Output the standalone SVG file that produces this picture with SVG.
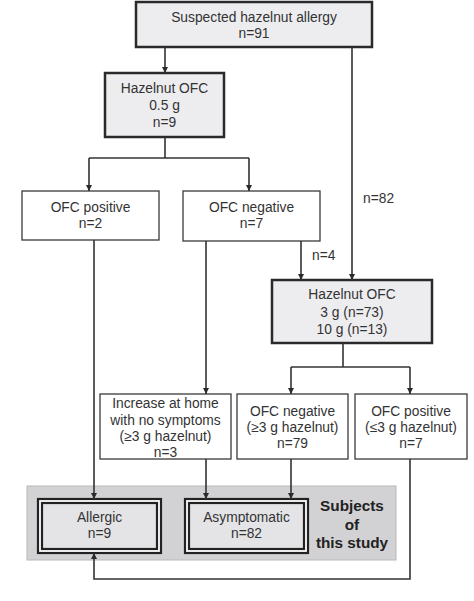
<svg xmlns="http://www.w3.org/2000/svg" width="474" height="601" viewBox="0 0 474 601">
<defs>
<marker id="arr" viewBox="0 0 10 10" refX="10" refY="5" markerWidth="6" markerHeight="6" markerUnits="userSpaceOnUse" orient="auto">
<path d="M0,0 L10,5 L0,10 z" fill="#2a2a2a"/>
</marker>
</defs>
<style>
text{font-family:"Liberation Sans",Arial,sans-serif;font-size:13.8px;fill:#333;text-anchor:middle}
.lbl{text-anchor:start}
.bold{font-weight:bold;font-size:15.3px;fill:#222}
.thick{fill:#ededf0;stroke:#2a2a2a;stroke-width:2.5}
.thin{fill:#fff;stroke:#3a3a3a;stroke-width:1.3}
.dbl{fill:#e4e4e6;stroke:#222;stroke-width:2.2}
.dblo{fill:#fff;stroke:#222;stroke-width:2.2}
.band{fill:#d2d2d4;stroke:#b8b8ba;stroke-width:1}
.conn path{fill:none;stroke:#333;stroke-width:1.6}
</style>
<g id="band"><rect class="band" x="27" y="486" width="369" height="74"/></g>
<g id="top"><rect class="thick" x="136" y="2" width="236" height="45"/>
<text x="254" y="22">Suspected hazelnut allergy</text><text x="254" y="38">n=91</text></g>
<g id="ofc05"><rect class="thick" x="105" y="73" width="119" height="64"/>
<text x="164.5" y="93">Hazelnut OFC</text><text x="164.5" y="110">0.5 g</text><text x="164.5" y="127">n=9</text></g>
<g id="ofcpos1"><rect class="thin" x="22" y="191" width="137" height="49"/>
<text x="90.5" y="212">OFC positive</text><text x="90.5" y="228">n=2</text></g>
<g id="ofcneg1"><rect class="thin" x="183" y="191" width="137" height="50"/>
<text x="251.5" y="212">OFC negative</text><text x="251.5" y="228">n=7</text></g>
<g id="ofc3"><rect class="thick" x="272" y="280" width="160" height="63"/>
<text x="352" y="299">Hazelnut OFC</text><text x="352" y="317">3 g (n=73)</text><text x="352" y="334">10 g (n=13)</text></g>
<g id="home"><rect class="thin" x="100" y="394" width="131" height="65"/>
<text x="165.5" y="408">Increase at home</text><text x="165.5" y="424.5">with no symptoms</text><text x="165.5" y="441">(≥3 g hazelnut)</text><text x="165.5" y="457">n=3</text></g>
<g id="ofcneg2"><rect class="thin" x="237" y="394" width="111" height="65"/>
<text x="292.5" y="416">OFC negative</text><text x="292.5" y="432">(≥3 g hazelnut)</text><text x="292.5" y="448">n=79</text></g>
<g id="ofcpos2"><rect class="thin" x="355" y="394" width="112" height="65"/>
<text x="411" y="416">OFC positive</text><text x="411" y="432">(≤3 g hazelnut)</text><text x="411" y="448">n=7</text></g>
<g id="allergic"><rect class="dblo" x="38" y="499" width="123" height="54"/><rect class="dbl" x="42" y="503" width="115" height="46"/>
<text x="99.5" y="522">Allergic</text><text x="99.5" y="538">n=9</text></g>
<g id="asymptomatic"><rect class="dblo" x="185" y="499" width="123" height="54"/><rect class="dbl" x="189" y="503" width="115" height="46"/>
<text x="246.5" y="522">Asymptomatic</text><text x="246.5" y="538">n=82</text></g>
<g id="subjects"><text class="bold" x="352" y="510.5">Subjects</text><text class="bold" x="352" y="529.5">of</text><text class="bold" x="352" y="547.5">this study</text></g>
<g id="connectors" class="conn">
<path d="M165,47 V73" marker-end="url(#arr)"/>
<path d="M352,47 V280" marker-end="url(#arr)"/>
<path d="M165,137 V158"/>
<path d="M89,158 H249"/>
<path d="M89,158 V191" marker-end="url(#arr)"/>
<path d="M249,158 V191" marker-end="url(#arr)"/>
<path d="M301,241 V280" marker-end="url(#arr)"/>
<path d="M206,241 V394" marker-end="url(#arr)"/>
<path d="M94,240 V499" marker-end="url(#arr)"/>
<path d="M343,343 V367"/>
<path d="M291,367 H410"/>
<path d="M291,367 V394" marker-end="url(#arr)"/>
<path d="M410,367 V394" marker-end="url(#arr)"/>
<path d="M206,459 V499" marker-end="url(#arr)"/>
<path d="M291,459 V499" marker-end="url(#arr)"/>
<path d="M410,459 V579 H94 V553" marker-end="url(#arr)"/>
</g>
<g id="labels">
<text class="lbl" x="363" y="203">n=82</text>
<text class="lbl" x="312" y="260">n=4</text>
</g>
</svg>
